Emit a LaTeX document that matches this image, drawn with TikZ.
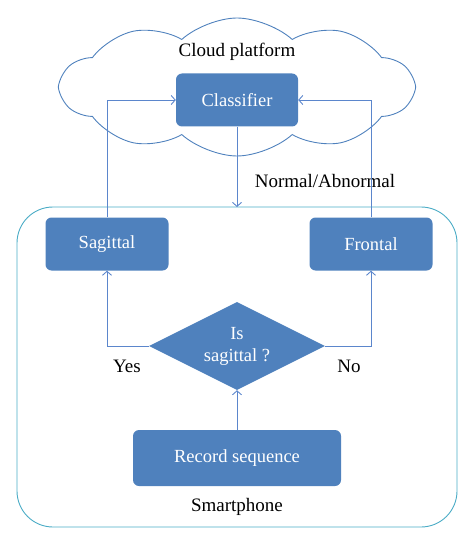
\documentclass[tikz,border=0pt]{standalone}
\usepackage{fontspec}
\setmainfont{Liberation Serif}
\usetikzlibrary{shapes.symbols,shapes.geometric,arrows.meta}
\definecolor{boxblue}{HTML}{4F81BD}
\definecolor{lineblue}{HTML}{5B86CC}
\definecolor{phoneteal}{HTML}{4BACC6}
\tikzset{
  blockbox/.style={draw=none, fill=boxblue, rounded corners=6pt, text=white, font=\fontsize{18.5}{22}\selectfont, inner sep=0pt},
  decision/.style={diamond, fill=boxblue, text=white, font=\fontsize{18.5}{22}\selectfont, inner sep=0pt, align=center, minimum width=176pt, minimum height=88pt, aspect=2},
  conn/.style={draw=lineblue, line width=0.9pt, -{Straight Barb[length=4pt,width=9pt]}},
  lbl/.style={font=\fontsize{19}{22}\selectfont, text=black}
}
\begin{document}
\begin{tikzpicture}[x=1pt,y=-1pt]
\useasboundingbox (0,0) rectangle (474,545);
\node[cloud, cloud puffs=10, cloud puff arc=85, aspect=2.5, draw=boxblue, line width=0.9pt, minimum width=352pt, minimum height=138pt] (cloud) at (237,87) {};
\draw[phoneteal, line width=0.9pt, rounded corners=36pt] (17,207) rectangle (457,527);
\coordinate (phonetop) at (237,207);
\node[blockbox, minimum width=122pt, minimum height=53pt] (cls) at (237,100) {Classifier};
\node[blockbox, minimum width=123pt, minimum height=53pt] (sag) at (107,244) {Sagittal};
\node[blockbox, minimum width=123pt, minimum height=53pt] (fro) at (371,244) {Frontal};
\node[decision] (dec) at (237,346) {Is\\sagittal ?};
\node[blockbox, minimum width=208pt, minimum height=56pt] (rec) at (237,458) {Record sequence};
\node[lbl] (cp) at (237,52) {Cloud platform};
\node[lbl] (na) at (325,181) {Normal/Abnormal};
\node[lbl] (yes) at (127,366) {Yes};
\node[lbl] (no) at (349,366) {No};
\node[lbl] (sp) at (237,507) {Smartphone};
\draw[conn] (cls.south) -- (phonetop);
\draw[conn] (sag.north) |- (cls.west);
\draw[conn] (fro.north) |- (cls.east);
\draw[conn] (dec.west) -| (sag.south);
\draw[conn] (dec.east) -| (fro.south);
\draw[conn] (rec.north) -- (dec.south);
\end{tikzpicture}
\end{document}
